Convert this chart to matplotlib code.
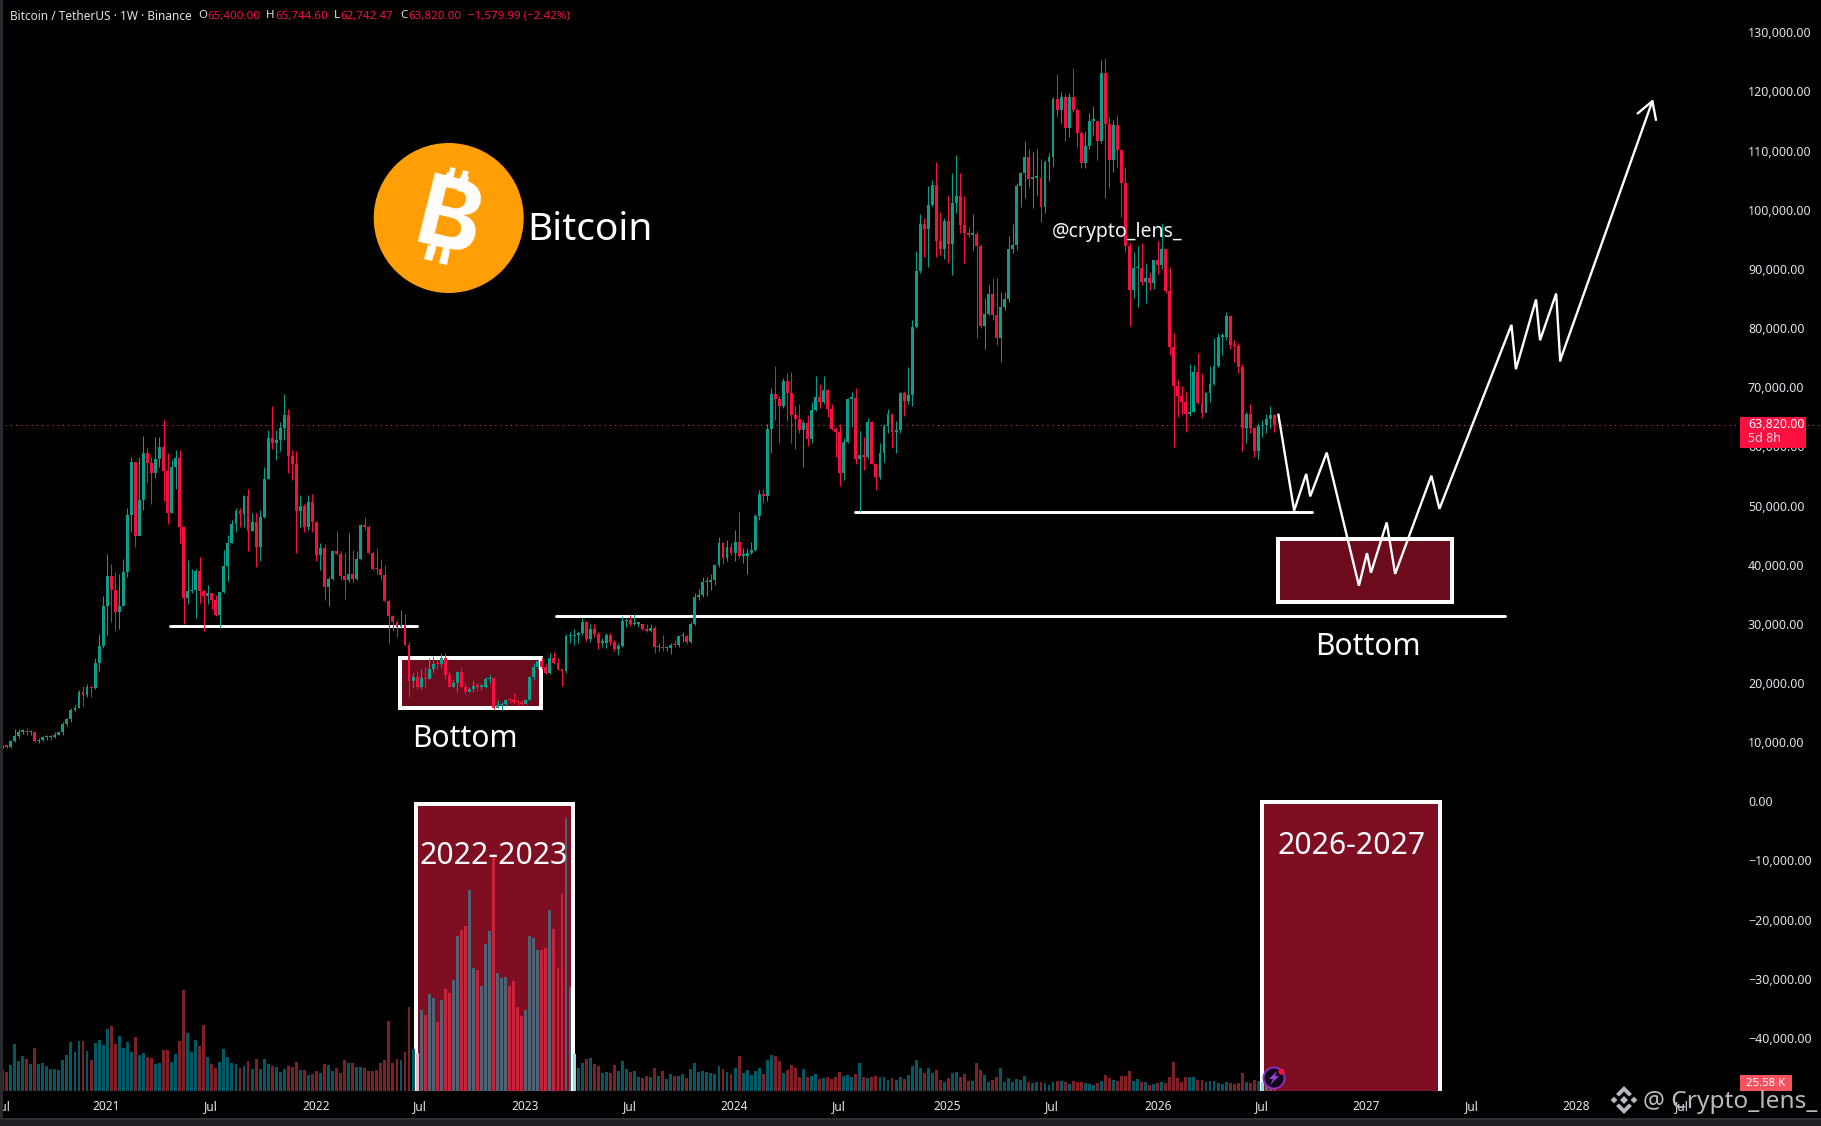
import numpy as np
import matplotlib
matplotlib.use("Agg")
import matplotlib.pyplot as plt
from matplotlib.patches import Rectangle, Circle, Polygon

plt.rcParams['font.family'] = ['Noto Sans', 'DejaVu Sans']

# weekly candles, prices in thousands of USDT
first_open = 9.4
closes = [
    9.6, 9.5, 10.4, 11.3, 12.0, 12.2, 11.9, 12.0, 10.4, 10.6,
    11.1, 11.1, 11.2, 11.5, 11.9, 13.3, 14.1, 15.7, 16.1, 18.7,
    18.2, 19.6, 19.4, 23.6, 26.5, 33.3, 38.3, 35.9, 32.3, 33.3,
    39.0, 48.7, 57.6, 45.1, 51.2, 59.1, 57.4, 55.8, 58.2, 60.2,
    56.1, 49.0, 56.7, 58.3, 46.6, 34.7, 35.8, 35.9, 39.2, 35.8,
    34.9, 35.4, 34.3, 31.8, 35.6, 40.0, 43.9, 47.1, 49.3, 48.8,
    51.9, 46.0, 47.4, 43.3, 48.3, 54.7, 61.6, 60.9, 61.4, 63.4,
    65.6, 58.6, 57.3, 49.4, 50.2, 46.7, 50.9, 47.4, 41.9, 43.0,
    36.4, 37.9, 42.6, 42.0, 38.3, 37.7, 38.7, 37.8, 41.3, 47.0,
    46.6, 42.2, 39.6, 39.5, 38.5, 34.2, 31.5, 30.5, 29.8, 30.1,
    26.7, 20.6, 21.3, 19.5, 21.1, 20.9, 22.7, 23.5, 23.4, 24.4,
    21.6, 19.6, 20.3, 22.1, 19.6, 18.8, 19.2, 19.7, 19.6, 19.6,
    20.9, 21.1, 16.0, 16.5, 16.7, 17.4, 17.3, 17.1, 17.0, 16.7,
    17.4, 21.2, 23.0, 23.9, 22.9, 21.9, 24.4, 23.6, 22.6, 22.2,
    28.2, 28.2, 28.4, 28.7, 30.5, 27.7, 29.4, 28.6, 27.1, 27.1,
    28.3, 27.2, 26.0, 26.5, 30.7, 30.9, 30.2, 30.3, 30.3, 29.4,
    29.0, 29.5, 26.3, 26.3, 26.1, 26.1, 26.7, 26.6, 28.2, 28.2,
    27.2, 30.2, 34.8, 35.1, 37.3, 37.4, 37.7, 40.2, 43.9, 41.4,
    43.2, 42.3, 44.1, 41.8, 41.8, 42.2, 42.7, 48.5, 52.2, 51.8,
    63.2, 69.1, 68.3, 67.1, 71.3, 69.3, 65.6, 64.9, 63.0, 64.2,
    61.5, 66.4, 68.6, 67.8, 69.8, 66.6, 63.2, 62.7, 55.7, 61.0,
    68.3, 68.4, 58.1, 58.8, 58.5, 64.4, 57.3, 55.0, 59.2, 63.7,
    65.7, 62.7, 63.0, 69.2, 67.9, 68.9, 80.5, 89.9, 97.9, 97.0,
    101.1, 104.4, 95.0, 93.6, 98.4, 94.5, 101.4, 102.6, 97.6, 96.3,
    96.0, 96.2, 94.2, 80.6, 82.6, 86.1, 82.5, 78.5, 83.8, 85.1,
    93.7, 94.3, 104.2, 106.5, 109.1, 105.5, 105.7, 105.7, 100.8, 108.4,
    109.1, 119.0, 117.2, 119.3, 114.1, 119.3, 117.1, 113.3, 108.1, 111.0,
    115.3, 115.3, 111.9, 123.4, 114.8, 108.6, 114.6, 110.4, 104.7, 94.2,
    86.7, 90.4, 90.4, 88.1, 88.7, 87.9, 91.7, 90.9, 93.6, 86.5,
    77.0, 70.4, 68.8, 67.7, 65.7, 66.1, 72.9, 67.6, 65.9, 69.2,
    70.8, 73.8, 78.8, 78.8, 82.3, 77.4, 77.2, 73.7, 63.4, 65.8,
    63.3, 59.5, 63.7, 63.9, 64.9, 65.6, 63.82]
highs = [
    9.8, 9.7, 10.6, 12.4, 12.5, 12.5, 12.7, 12.3, 12.2, 10.9,
    11.3, 11.4, 11.5, 11.9, 12.0, 13.7, 14.3, 16.0, 16.5, 19.0,
    19.7, 20.1, 19.7, 24.4, 28.6, 35.0, 42.1, 40.4, 39.1, 38.7,
    41.2, 49.8, 58.4, 52.9, 58.4, 62.0, 59.9, 58.4, 61.8, 61.8,
    64.9, 59.1, 58.0, 59.6, 59.6, 46.8, 41.1, 39.6, 39.5, 41.6,
    36.0, 36.8, 35.4, 35.1, 35.7, 42.7, 45.3, 47.8, 49.8, 49.8,
    52.0, 53.0, 49.0, 49.0, 49.5, 56.7, 63.0, 67.1, 63.0, 64.4,
    69.1, 66.5, 59.6, 59.4, 52.0, 50.5, 52.0, 52.2, 47.5, 43.9,
    43.8, 38.1, 42.7, 46.0, 42.5, 42.2, 45.6, 42.7, 42.5, 47.1,
    48.4, 47.0, 42.6, 43.0, 41.3, 40.2, 34.4, 31.7, 30.9, 32.6,
    31.9, 27.2, 22.0, 22.3, 22.7, 22.9, 24.4, 24.8, 24.1, 25.3,
    25.4, 22.2, 20.8, 22.2, 22.9, 20.3, 19.5, 20.8, 20.2, 19.9,
    21.2, 21.8, 21.3, 17.3, 17.0, 17.5, 17.7, 18.5, 17.4, 17.3,
    17.5, 21.5, 23.6, 24.1, 24.7, 23.7, 25.4, 25.5, 24.4, 22.7,
    28.5, 28.9, 29.3, 29.0, 31.2, 30.7, 30.2, 30.3, 28.8, 27.8,
    28.7, 28.7, 27.5, 27.0, 31.6, 31.3, 31.7, 32.0, 30.6, 30.3,
    30.2, 30.3, 29.9, 27.0, 28.4, 26.5, 27.1, 27.6, 28.4, 28.9,
    28.4, 30.6, 35.5, 36.1, 38.1, 38.1, 38.7, 40.3, 45.0, 44.1,
    44.5, 44.0, 46.1, 49.2, 43.0, 43.0, 44.1, 48.8, 52.9, 53.0,
    64.0, 70.1, 73.8, 68.7, 71.8, 72.6, 72.8, 67.0, 67.4, 64.8,
    65.6, 67.8, 72.2, 70.8, 72.2, 69.9, 67.4, 63.5, 64.0, 61.6,
    68.4, 69.5, 70.1, 62.9, 61.9, 65.0, 64.5, 57.5, 60.8, 64.1,
    66.6, 65.7, 64.5, 69.4, 69.6, 73.7, 81.6, 93.3, 99.5, 98.8,
    104.2, 105.3, 108.3, 99.9, 98.8, 102.8, 106.4, 109.5, 106.4, 102.6,
    97.4, 99.6, 96.6, 94.5, 85.3, 87.5, 88.8, 88.7, 86.4, 86.4,
    95.8, 97.9, 104.7, 106.7, 111.9, 110.6, 110.1, 110.6, 108.8, 108.7,
    109.8, 119.4, 123.2, 120.2, 119.8, 120.0, 124.3, 117.4, 113.6, 113.5,
    116.6, 117.8, 115.4, 125.6, 126.0, 115.9, 115.4, 116.3, 110.6, 107.5,
    94.6, 93.2, 94.1, 94.6, 91.2, 89.8, 91.8, 94.9, 98.0, 93.7,
    90.5, 79.4, 71.5, 70.5, 69.7, 74.2, 74.0, 76.1, 72.6, 69.5,
    73.8, 78.5, 79.5, 79.5, 83.0, 82.5, 78.2, 77.7, 74.2, 66.0,
    67.4, 63.6, 64.2, 64.8, 65.7, 67.1, 65.74]
lows = [
    9.2, 9.3, 9.2, 10.3, 11.0, 11.6, 11.5, 11.5, 10.2, 10.1,
    10.4, 10.6, 10.7, 11.0, 11.4, 11.4, 13.0, 13.7, 15.6, 16.0,
    16.4, 17.9, 17.9, 19.2, 22.2, 26.2, 28.4, 30.6, 29.1, 29.3,
    33.2, 38.2, 45.8, 43.3, 49.5, 49.5, 54.3, 50.5, 54.9, 56.8,
    51.1, 47.2, 49.0, 53.1, 44.0, 30.2, 33.6, 35.4, 31.2, 33.7,
    29.1, 33.6, 32.7, 31.5, 29.5, 35.4, 37.5, 43.9, 45.7, 46.7,
    46.7, 42.6, 46.0, 39.9, 40.8, 48.1, 54.7, 59.8, 58.0, 59.4,
    61.3, 55.8, 54.6, 42.3, 46.7, 45.7, 46.2, 45.7, 40.8, 39.4,
    34.3, 33.2, 37.7, 41.9, 37.7, 34.5, 37.4, 37.4, 37.7, 41.0,
    46.1, 42.1, 39.4, 38.7, 37.7, 34.0, 27.0, 29.1, 28.1, 29.5,
    26.7, 17.9, 19.4, 19.0, 19.2, 19.4, 21.0, 22.0, 22.7, 23.0,
    21.0, 19.5, 19.5, 18.8, 19.5, 18.4, 18.8, 18.8, 18.8, 19.1,
    19.4, 20.2, 15.8, 16.1, 15.7, 16.4, 16.8, 16.7, 16.5, 16.5,
    16.7, 17.3, 20.8, 22.7, 22.7, 21.8, 21.8, 23.5, 22.5, 19.8,
    21.9, 27.0, 26.7, 27.1, 28.4, 27.4, 27.2, 28.0, 26.0, 26.4,
    26.1, 26.7, 25.7, 25.0, 26.3, 29.8, 29.9, 30.1, 29.8, 29.2,
    28.9, 28.9, 25.4, 25.6, 25.6, 25.7, 25.2, 26.3, 26.3, 27.2,
    26.8, 27.1, 30.0, 34.3, 34.8, 35.0, 35.9, 36.8, 39.9, 40.4,
    40.9, 41.9, 40.9, 41.6, 40.5, 38.7, 42.1, 42.5, 47.8, 50.7,
    51.1, 59.2, 64.7, 60.9, 66.7, 64.5, 60.9, 59.8, 62.6, 56.8,
    60.3, 60.9, 66.3, 66.7, 67.5, 65.3, 63.1, 58.5, 53.6, 54.5,
    60.8, 63.5, 57.3, 49.2, 56.3, 58.2, 57.3, 52.8, 54.7, 57.7,
    62.6, 60.0, 59.2, 62.6, 65.4, 67.5, 67.0, 80.2, 89.5, 92.3,
    90.6, 100.9, 92.3, 92.6, 92.0, 91.3, 89.2, 99.7, 96.3, 91.3,
    95.7, 93.5, 78.5, 80.2, 76.8, 82.5, 81.6, 77.4, 74.6, 83.3,
    84.7, 92.9, 93.5, 100.8, 102.2, 103.9, 100.5, 102.8, 98.2, 99.7,
    105.2, 107.5, 115.9, 114.9, 111.9, 112.6, 116.8, 110.8, 107.4, 107.4,
    110.6, 112.9, 108.7, 111.6, 102.2, 103.9, 106.7, 107.5, 99.1, 93.2,
    80.6, 85.3, 83.9, 87.6, 84.5, 86.7, 86.8, 89.4, 90.2, 86.2,
    75.7, 60.2, 65.3, 65.7, 62.7, 65.4, 66.0, 67.4, 65.0, 66.0,
    67.8, 70.6, 73.7, 75.7, 78.2, 76.8, 74.6, 72.6, 59.4, 60.8,
    62.5, 58.4, 58.1, 61.9, 62.6, 63.3, 62.74]
# volume in K
volumes = [
    68, 60, 82, 149, 95, 111, 101, 85, 137, 85,
    89, 79, 69, 69, 66, 98, 114, 156, 124, 159,
    159, 127, 98, 153, 162, 146, 197, 207, 149, 175,
    137, 156, 124, 172, 114, 121, 108, 105, 85, 89,
    130, 130, 92, 117, 159, 322, 185, 124, 162, 143,
    210, 108, 85, 73, 92, 133, 108, 89, 85, 73,
    79, 95, 69, 101, 69, 101, 85, 79, 76, 60,
    69, 79, 76, 92, 66, 66, 50, 53, 63, 57,
    85, 82, 63, 73, 57, 98, 89, 89, 76, 76,
    73, 63, 63, 66, 89, 98, 223, 89, 101, 98,
    124, 268, 133, 121, 258, 242, 309, 297, 220, 290,
    325, 313, 354, 495, 514, 527, 642, 393, 386, 335,
    469, 511, 748, 377, 361, 364, 335, 351, 268, 239,
    258, 495, 489, 450, 450, 457, 578, 517, 393, 629,
    873, 332, 117, 73, 89, 101, 105, 85, 79, 57,
    60, 57, 82, 63, 95, 69, 61, 64, 45, 42,
    48, 45, 74, 48, 64, 38, 54, 48, 48, 54,
    42, 70, 90, 61, 64, 61, 58, 54, 80, 70,
    61, 54, 74, 112, 58, 67, 51, 64, 74, 54,
    99, 115, 112, 96, 58, 67, 83, 74, 45, 70,
    45, 48, 54, 38, 42, 45, 38, 45, 61, 48,
    51, 45, 54, 90, 45, 42, 45, 48, 45, 45,
    35, 42, 35, 45, 38, 51, 80, 99, 74, 58,
    74, 58, 67, 35, 29, 42, 58, 61, 45, 54,
    32, 32, 90, 67, 51, 29, 35, 45, 74, 29,
    42, 29, 38, 35, 48, 29, 26, 29, 29, 26,
    19, 29, 32, 32, 29, 22, 32, 29, 29, 26,
    22, 19, 26, 32, 51, 42, 35, 32, 48, 48,
    64, 32, 38, 29, 29, 19, 22, 26, 29, 26,
    45, 93, 42, 29, 45, 45, 45, 35, 35, 29,
    32, 32, 26, 22, 29, 26, 22, 26, 58, 29,
    26, 35, 32, 29, 22, 24, 25.58]

# x axis labels, as week numbers
tick_weeks = [0.4, 25.7, 51.8, 77.8, 103.7, 129.8, 155.9, 181.7, 207.7, 234.8,
              260.8, 287.1, 312.9, 338.9, 365.0, 391.0, 417.1]
tick_names = ['Jul', '2021', 'Jul', '2022', 'Jul', '2023', 'Jul', '2024', 'Jul', '2025',
              'Jul', '2026', 'Jul', '2027', 'Jul', '2028', 'Jul']
price_ticks = list(range(-40, 131, 10))

# drawn path after the last candle
path_weeks = [317.0, 320.9, 323.9, 324.9, 329.0, 337.0, 339.0, 340.0, 343.9, 346.0,
              355.0, 357.0, 374.9, 376.0, 381.0, 382.0, 386.0, 387.0, 410.1]
path_prices = [65.6, 49.4, 55.6, 51.8, 59.2, 36.7, 42.2, 38.9, 47.4, 38.7,
               55.3, 49.7, 80.8, 73.3, 85.1, 78.2, 86.1, 74.8, 119.0]

# support lines (from week, to week, price)
support_lines = [(41.5, 103.1, 29.84), (137.5, 373.3, 31.63), (211.7, 325.3, 49.13)]
# bottom boxes (week0, week1, price0, price1)
bottom_boxes = [(98.8, 133.7, 16.03, 24.48), (316.9, 360.1, 34.0, 44.6)]
# year columns (week0, week1, top price)
year_boxes = [(102.7, 141.7, -0.2), (312.9, 357.2, 0.14)]
last_close = closes[-1]

W, H = 1821, 1126
BASE_Y = 1091
PX_PER_WEEK = 4.025
PX_PER_K = 5.915
KVOL_PER_PX = 3.2
WHITE_LW = 4 * 72 / 100

TEAL = '#089e8a'
RED = '#fb0d40'

fig = plt.figure(figsize=(W / 100, H / 100), dpi=100, facecolor='black')
ax = fig.add_axes([0, 0, 1, 1], facecolor='black')
ax.set_xlim(-2.5 / PX_PER_WEEK, (W - 2.5) / PX_PER_WEEK)
ax.set_ylim((802.8 - H) / PX_PER_K, 802.8 / PX_PER_K)
base_price = (802.8 - BASE_Y) / PX_PER_K

closes = np.array(closes)
opens = np.r_[first_open, closes[:-1]]
weeks = np.arange(len(closes))
up = closes >= opens

# boxes under the candles
for x0, x1, top in year_boxes:
    ax.add_patch(Rectangle((x0, base_price - 2), x1 - x0, top - base_price + 2, fc='#800e22',
                           ec='white', lw=WHITE_LW, zorder=1))
ax.axhspan(ax.get_ylim()[0], base_price, color='black', zorder=1.5, lw=0)
for x0, x1, y0, y1 in bottom_boxes:
    ax.add_patch(Rectangle((x0, y0), x1 - x0, y1 - y0, fc='#6b0b1d', ec='white',
                           lw=WHITE_LW, zorder=1))
for x0, x1, y in support_lines:
    ax.plot([x0, x1], [y, y], color='white', lw=2.1, solid_capstyle='round', zorder=2)

ax.axhline(last_close, color='#f23645', lw=0.75, ls=(0, (1, 4)), zorder=2)

# candles
candle_colors = [TEAL if u else RED for u in up]
ax.vlines(weeks, lows, highs, colors=candle_colors, lw=0.75, zorder=3)
body_low = np.minimum(opens, closes)
body_h = np.maximum(np.abs(closes - opens), 0.25)
ax.bar(weeks, body_h, bottom=body_low, width=2.9 / PX_PER_WEEK, color=candle_colors, lw=0, zorder=3)

ax.plot(path_weeks[:-1], path_prices[:-1], color='white', lw=1.7, solid_joinstyle='miter', zorder=4)
ax.annotate('', xy=(path_weeks[-1], path_prices[-1]), xytext=(path_weeks[-2], path_prices[-2]),
            arrowprops=dict(arrowstyle='->,head_length=0.85,head_width=0.5', color='white',
                            lw=1.7, mutation_scale=14, shrinkA=0, shrinkB=0), zorder=4)

# volume pane
vol = ax.twinx()
vol.set_zorder(2)
vol.patch.set_visible(False)
vol.set_ylim((BASE_Y - H) * KVOL_PER_PX, BASE_Y * KVOL_PER_PX)
vol.axis('off')
vol_colors = []
for w, u in zip(weeks, up):
    if w in (103, 142, 313):
        vol_colors.append('#8fe3e6' if u else '#f4b6c0')
    elif 103 < w < 142 or w > 313:
        vol_colors.append('#4f6374' if u else '#c8233a')
    else:
        vol_colors.append('#005a66' if u else '#7f2027')
vol.bar(weeks, volumes, width=2.9 / PX_PER_WEEK, color=vol_colors, lw=0)

# price scale and time scale (twinx moves the ticks, so set them after it)
ax.yaxis.tick_right()
ax.set_yticks(price_ticks)
ax.set_yticklabels([f'{v * 1000:,.2f}'.replace('-', '\u2212') for v in price_ticks], fontweight='medium', va='center')
ax.tick_params(axis='y', length=0, pad=-(W - 1748) * 0.72, labelsize=9, labelcolor='#dfe3ea')
ax.set_xticks(tick_weeks)
ax.set_xticklabels(tick_names)
ax.tick_params(axis='x', length=0, pad=-(H - 1100) * 0.72, labelsize=8.6, labelcolor='#e4e7ec')
for lab in ax.get_xticklabels():
    if lab.get_text() != 'Jul':
        lab.set_fontweight('bold')
for s in ax.spines.values():
    s.set_visible(False)

# overlay in pixel coordinates for the decoration
ov = fig.add_axes([0, 0, 1, 1], zorder=5)
ov.patch.set_visible(False)
ov.set_xlim(0, W)
ov.set_ylim(H, 0)
ov.axis('off')

ov.add_patch(Rectangle((0, 0), 3, H, fc='#2a2a2e', lw=0))
ov.add_patch(Rectangle((0, 1118), W, 8, fc='#202024', lw=0))
ov.add_patch(Rectangle((0, 1118), W, 1.5, fc='#2e2e33', lw=0))

# header
ov.text(9.5, 16, 'Bitcoin / TetherUS \u00b7 1W \u00b7 Binance', color='#e0e3e8', fontsize=8.55, va='center')
for x, s, c in [(198, 'O', '#e0e3e8'), (207, '65,400.00', RED), (266, 'H', '#e0e3e8'), (275, '65,744.60', RED),
                (334, 'L', '#e0e3e8'), (340.5, '62,742.47', RED), (400.5, 'C', '#e0e3e8'), (408, '63,820.00', RED),
                (468.5, '\u22121,579.99 (\u22122.42%)', RED)]:
    ov.text(x, 16, s, color=c, fontsize=8.3, va='center')

# logo
ov.add_patch(Circle((448.7, 218), 75, fc='#ff9f05', lw=0))
ov.text(448, 224, '\u20bf', family=['Roboto', 'Inter', 'Open Sans', 'Lato', 'Noto Sans CJK SC', 'Liberation Sans', 'DejaVu Sans'],
        fontweight='bold', color='white', fontsize=70,
        rotation=-14, ha='center', va='center', rotation_mode='anchor')
# the font draws only stubs for the two strokes of the sign, so lengthen them
for bar in ([(447, 172), (454, 173), (450, 188), (443, 187)], [(461, 175), (469, 177), (465, 192), (457, 191)],
            [(428, 245), (436, 247), (432, 261), (424, 259)], [(443, 248), (450, 250), (447, 265), (439, 263)]):
    ov.add_patch(Polygon(bar, fc='white', lw=0))
ov.text(527, 240, 'Bitcoin', color='white', fontsize=28, va='baseline')
ov.text(1052, 232, '@crypto_lens_', color='#f2f4f7', fontsize=14, va='center')

ov.text(464.5, 747, 'Bottom', color='white', fontsize=21.6, ha='center', va='baseline')
ov.text(1368, 655, 'Bottom', color='white', fontsize=21.6, ha='center', va='baseline')
ov.text(494, 864, '2022-2023', color='white', fontsize=21.7, ha='center', va='baseline')
ov.text(1352, 854, '2026-2027', color='white', fontsize=21.7, ha='center', va='baseline')

# last price tag
ov.add_patch(Rectangle((1740, 417), 66, 31, fc='#fb1040', lw=0))
ov.text(1748, 424.5, '63,820.00', color='white', fontsize=9, fontweight='medium', va='center')
ov.text(1748, 439, '5d 8h', color='#ffd6de', fontsize=9, fontweight='medium', va='center')

# last volume tag
ov.add_patch(Rectangle((1740, 1075), 52, 16, fc='#f7525f', lw=0))
ov.text(1766, 1083, '25.58 K', color='white', fontsize=8.2, fontweight='bold', ha='center', va='center')

# bolt icon
ov.add_patch(Circle((1274, 1078), 10.5, fc='#100818', ec='#8a2fc4', lw=1.4))
ov.add_patch(Polygon([(1277, 1071), (1269, 1079), (1273, 1079), (1270, 1085), (1279, 1076), (1275, 1076)],
                     fc='#9a3fd8', lw=0))
ov.add_patch(Circle((1281.5, 1071.7), 3, fc='#fb1040', lw=0))

# watermark
wm = '#b9bac0'
def diamond(cx, cy, r):
    ov.add_patch(Polygon([(cx - r, cy), (cx, cy - r), (cx + r, cy), (cx, cy + r)], fc=wm, lw=0))
diamond(1624, 1100, 4)
diamond(1614, 1100, 3.4)
diamond(1634, 1100, 3.4)
ov.add_patch(Polygon([(1624, 1086), (1632, 1094), (1629, 1096.5), (1624, 1091.5), (1619, 1096.5), (1616, 1094)], fc=wm, lw=0))
ov.add_patch(Polygon([(1624, 1114), (1632, 1106), (1629, 1103.5), (1624, 1108.5), (1619, 1103.5), (1616, 1106)], fc=wm, lw=0))
ov.text(1643, 1102, '@ Crypto_lens_', color=wm, fontsize=17.6, va='center')

fig.savefig('out.png', dpi=100, facecolor='black')
